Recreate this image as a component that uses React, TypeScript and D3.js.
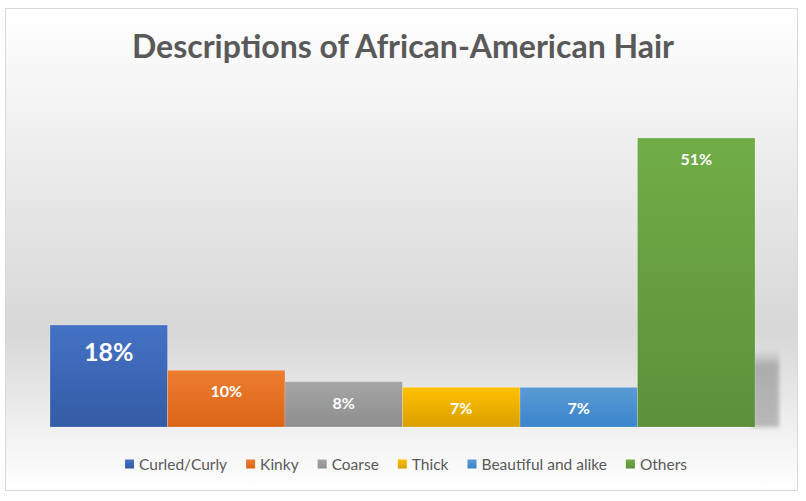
import * as React from 'react';
import { useRef, useEffect } from 'react';
import * as d3 from 'd3';

const categories = ['Curled/Curly', 'Kinky', 'Coarse', 'Thick', 'Beautiful and alike', 'Others'];
const values = [18, 10, 8, 7, 7, 51];
const palette = ['#4472c4', '#ed7d31', '#a5a5a5', '#ffc000', '#5b9bd5', '#70ad47'];
const paletteDark = ['#345ca6', '#dc6516', '#8e8e8e', '#d9a000', '#3a85cb', '#5d903a'];

const width = 806;
const height = 501;
const font = 'Lato, "Open Sans", sans-serif';

export default function App() {
  const svgRef = useRef<SVGSVGElement>(null);

  useEffect(() => {
    document.body.style.margin = '0';
    if (!svgRef.current) return;
    const svg = d3.select(svgRef.current);
    svg.selectAll('*').remove();

    const defs = svg.append('defs');
    const bg = defs.append('linearGradient').attr('id', 'bg').attr('x1', 0).attr('y1', 0).attr('x2', 0).attr('y2', 1);
    bg.append('stop').attr('offset', '0%').attr('stop-color', '#ffffff');
    bg.append('stop').attr('offset', '67%').attr('stop-color', '#d7d7d7');
    bg.append('stop').attr('offset', '87%').attr('stop-color', '#f0f0f0');
    bg.append('stop').attr('offset', '100%').attr('stop-color', '#ffffff');

    palette.forEach((c, i) => {
      const g = defs.append('linearGradient').attr('id', `bar${i}`).attr('x1', 0).attr('y1', 0).attr('x2', 0).attr('y2', 1);
      g.append('stop').attr('offset', '0%').attr('stop-color', c);
      g.append('stop').attr('offset', '100%').attr('stop-color', paletteDark[i]);
    });

    const sh = defs.append('linearGradient').attr('id', 'shadow').attr('x1', 0).attr('y1', 0).attr('x2', 0).attr('y2', 1);
    sh.append('stop').attr('offset', '0%').attr('stop-color', '#b0b0b0').attr('stop-opacity', 0);
    sh.append('stop').attr('offset', '20%').attr('stop-color', '#adadad').attr('stop-opacity', 1);
    sh.append('stop').attr('offset', '100%').attr('stop-color', '#b8b8b8').attr('stop-opacity', 1);
    defs.append('filter').attr('id', 'blur').append('feGaussianBlur').attr('stdDeviation', 2);

    // chart area
    svg.append('rect')
      .attr('x', 5.5).attr('y', 8.5).attr('width', 792).attr('height', 482)
      .attr('fill', 'url(#bg)').attr('stroke', '#d9d9d9');

    svg.append('text')
      .attr('x', 403).attr('y', 58)
      .attr('text-anchor', 'middle')
      .attr('font-family', font).attr('font-weight', 700).attr('font-size', 32)
      .attr('fill', '#595959')
      .text('Descriptions of African-American Hair');

    const x = d3.scaleBand<string>().domain(categories).range([50, 755]).padding(0);
    const y = d3.scaleLinear().domain([0, 60]).range([427, 87]);

    // shadow behind the tall bar
    const last = categories[categories.length - 1];
    svg.append('rect')
      .attr('x', (x(last) ?? 0) + x.bandwidth() - 4)
      .attr('y', 350)
      .attr('width', 28)
      .attr('height', y(0) - 350)
      .attr('fill', 'url(#shadow)')
      .attr('filter', 'url(#blur)');

    svg.append('g')
      .selectAll('rect')
      .data(values)
      .join('rect')
      .attr('x', (_, i) => x(categories[i]) ?? 0)
      .attr('y', (d) => y(d))
      .attr('width', x.bandwidth())
      .attr('height', (d) => y(0) - y(d))
      .attr('fill', (_, i) => `url(#bar${i})`)
      .attr('stroke', 'rgba(255,255,255,0.25)')
      .attr('stroke-width', 0.8);

    svg.append('g')
      .selectAll('text')
      .data(values)
      .join('text')
      .attr('x', (_, i) => (x(categories[i]) ?? 0) + x.bandwidth() / 2)
      .attr('y', (d, i) => y(d) + (i === 0 ? 36 : 27))
      .attr('text-anchor', 'middle')
      .attr('font-family', font).attr('font-weight', 700)
      .attr('font-size', (_, i) => (i === 0 ? 25 : 16))
      .attr('fill', '#ffffff')
      .text((d) => `${d}%`);

    // legend
    const legend = svg.append('g');
    let cursor = 0;
    categories.forEach((c, i) => {
      const g = legend.append('g');
      g.append('rect').attr('x', 0).attr('y', -4.5).attr('width', 9).attr('height', 9).attr('fill', `url(#bar${i})`);
      const t = g.append('text')
        .attr('x', 14).attr('y', 5.5)
        .attr('font-family', font).attr('font-size', 15.5)
        .attr('fill', '#595959')
        .text(c);
      const w = 14 + (t.node() as SVGTextElement).getComputedTextLength();
      g.attr('transform', `translate(${cursor},0)`);
      cursor += w + 19;
    });
    const total = cursor - 19;
    legend.attr('transform', `translate(${406 - total / 2},464)`);
  }, []);

  return <svg ref={svgRef} width={width} height={height} style={{ display: 'block' }} />;
}
